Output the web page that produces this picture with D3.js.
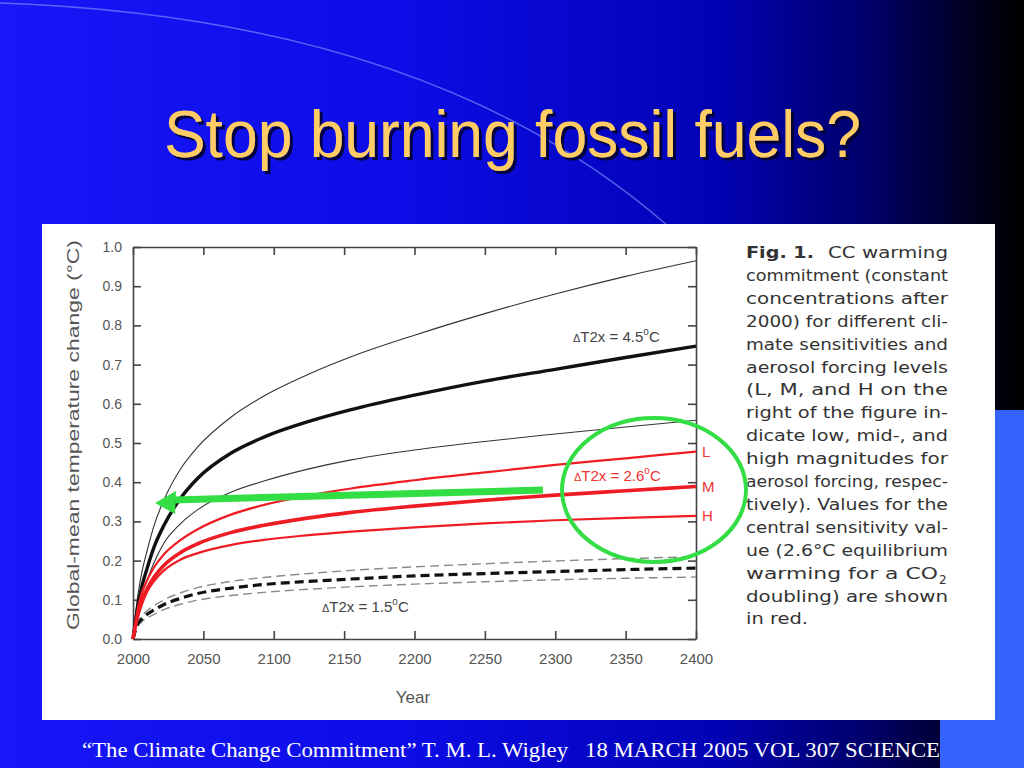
<!DOCTYPE html>
<html>
<head>
<meta charset="utf-8">
<script src="https://cdn.jsdelivr.net/npm/d3@7"></script>
<style>
  html, body { margin: 0; padding: 0; background: #000; }
  svg { display: block; }
</style>
</head>
<body>
<div id="svgOutput"></div>
<script>
// data

const years = [2000, 2003, 2006, 2010, 2015, 2022, 2034, 2046, 2070, 2093, 2125, 2155, 2200, 2250, 2300, 2350, 2400];

// dT2x = 4.5 (black, solid)
const hiL = [0, 0.10, 0.165, 0.225, 0.29, 0.355, 0.435, 0.49, 0.567, 0.62, 0.676, 0.72, 0.775, 0.83, 0.88, 0.925, 0.965];
const hiM = [0, 0.075, 0.13, 0.18, 0.235, 0.29, 0.36, 0.41, 0.475, 0.515, 0.555, 0.585, 0.622, 0.658, 0.688, 0.718, 0.747];
const hiH = [0, 0.065, 0.11, 0.15, 0.195, 0.245, 0.295, 0.33, 0.375, 0.403, 0.434, 0.457, 0.482, 0.504, 0.523, 0.541, 0.558];

// dT2x = 2.6 (red)
const midL = [0, 0.07, 0.115, 0.15, 0.183, 0.216, 0.253, 0.28, 0.318, 0.342, 0.366, 0.384, 0.405, 0.425, 0.444, 0.461, 0.478];
const midM = [0, 0.055, 0.095, 0.128, 0.158, 0.188, 0.221, 0.243, 0.272, 0.29, 0.309, 0.323, 0.339, 0.354, 0.367, 0.378, 0.389];
const midH = [0, 0.05, 0.085, 0.12, 0.148, 0.175, 0.203, 0.219, 0.24, 0.253, 0.265, 0.274, 0.285, 0.295, 0.303, 0.309, 0.314];

// dT2x = 1.5 (dashed)
const loL = [0, 0.04, 0.058, 0.072, 0.085, 0.10, 0.118, 0.131, 0.147, 0.157, 0.167, 0.175, 0.184, 0.192, 0.199, 0.205, 0.21];
const loM = [0, 0.035, 0.05, 0.063, 0.074, 0.088, 0.104, 0.116, 0.13, 0.139, 0.147, 0.153, 0.161, 0.167, 0.172, 0.177, 0.181];
const loH = [0, 0.03, 0.043, 0.054, 0.063, 0.075, 0.089, 0.099, 0.111, 0.119, 0.127, 0.133, 0.14, 0.146, 0.151, 0.155, 0.158];

const xTicks = [2000, 2050, 2100, 2150, 2200, 2250, 2300, 2350, 2400];
const yTicks = [0, 0.1, 0.2, 0.3, 0.4, 0.5, 0.6, 0.7, 0.8, 0.9, 1.0];
const levelLabels = ["L", "M", "H"];

const captionLines = [
  "CC warming",
  "commitment (constant",
  "concentrations after",
  "2000) for different cli-",
  "mate sensitivities and",
  "aerosol forcing levels",
  "(L, M, and H on the",
  "right of the figure in-",
  "dicate low, mid-, and",
  "high magnitudes for",
  "aerosol forcing, respec-",
  "tively). Values for the",
  "central sensitivity val-",
  "ue (2.6°C equilibrium",
  "warming for a CO",
  "doubling) are shown",
  "in red."
];

// config

const width = 1024;
const height = 768;

const svg = d3.select("#svgOutput")
  .append("svg")
  .attr("width", width)
  .attr("height", height);

const defs = svg.append("defs");

const bg = defs.append("linearGradient")
  .attr("id", "bgGrad")
  .attr("x1", 0).attr("x2", 1).attr("y1", 0).attr("y2", 0);
bg.append("stop").attr("offset", "0%").attr("stop-color", "#1717f8");
bg.append("stop").attr("offset", "40%").attr("stop-color", "#0c0ce6");
bg.append("stop").attr("offset", "70%").attr("stop-color", "#0202b4");
bg.append("stop").attr("offset", "85%").attr("stop-color", "#000068");
bg.append("stop").attr("offset", "97%").attr("stop-color", "#000010");
bg.append("stop").attr("offset", "100%").attr("stop-color", "#000000");

const shadow = defs.append("filter").attr("id", "shadow");
shadow.append("feDropShadow")
  .attr("dx", 3).attr("dy", 3).attr("stdDeviation", 0.6)
  .attr("flood-color", "#000030").attr("flood-opacity", 0.9);

// slide background

svg.append("rect")
  .attr("width", width)
  .attr("height", height)
  .attr("fill", "url(#bgGrad)");

svg.append("path")
  .attr("d", "M0,3 Q430,18 668,226")
  .attr("fill", "none")
  .attr("stroke", "#8fa8ff")
  .attr("stroke-opacity", 0.55)
  .attr("stroke-width", 1.5);

svg.append("path")
  .attr("d", "M995,410 H1024 V768 H940 V720 H995 Z")
  .attr("fill", "#3562fb");

// title

svg.append("text")
  .attr("x", 164)
  .attr("y", 157)
  .attr("font-family", "'Liberation Sans', Arial, sans-serif")
  .attr("font-size", 66)
  .attr("fill", "#ffcc66")
  .attr("filter", "url(#shadow)")
  .attr("textLength", 697)
  .attr("lengthAdjust", "spacingAndGlyphs")
  .text("Stop burning fossil fuels?");

// white figure panel

svg.append("rect")
  .attr("x", 42)
  .attr("y", 224)
  .attr("width", 953)
  .attr("height", 496)
  .attr("fill", "#ffffff");

// scales

const x = d3.scaleLinear().domain([2000, 2400]).range([133, 696]);
const y = d3.scaleLinear().domain([0, 1]).range([639, 247]);

const axisFont = "'Liberation Sans', Arial, sans-serif";

// axes (ticks pointing inward)

const gBottom = svg.append("g")
  .attr("transform", `translate(0,${y(0)})`)
  .call(d3.axisBottom(x).tickValues(xTicks).tickSizeInner(-8).tickSizeOuter(0).tickPadding(14).tickFormat(d3.format("d")));

const gTop = svg.append("g")
  .attr("transform", `translate(0,${y(1)})`)
  .call(d3.axisTop(x).tickValues(xTicks).tickSizeInner(-8).tickSizeOuter(0).tickFormat(""));

const gLeft = svg.append("g")
  .attr("transform", `translate(${x(2000)},0)`)
  .call(d3.axisLeft(y).tickValues(yTicks).tickSizeInner(-8).tickSizeOuter(0).tickPadding(11).tickFormat(d3.format(".1f")));

const gRight = svg.append("g")
  .attr("transform", `translate(${x(2400)},0)`)
  .call(d3.axisRight(y).tickValues(yTicks).tickSizeInner(-8).tickSizeOuter(0).tickFormat(""));

[gBottom, gTop, gLeft, gRight].forEach(function (g) {
  g.select(".domain").attr("stroke", "#444").attr("stroke-width", 1.6);
  g.selectAll(".tick line").attr("stroke", "#444").attr("stroke-width", 1.6);
  g.selectAll(".tick text")
    .attr("fill", "#555")
    .attr("font-family", axisFont);
});
gBottom.selectAll(".tick text").attr("font-size", 15);
gLeft.selectAll(".tick text").attr("font-size", 14);

// axis titles

svg.append("text")
  .attr("x", 413)
  .attr("y", 703)
  .attr("text-anchor", "middle")
  .attr("font-family", axisFont)
  .attr("font-size", 17)
  .attr("fill", "#555")
  .text("Year");

svg.append("text")
  .attr("transform", "translate(79,435) rotate(-90)")
  .attr("text-anchor", "middle")
  .attr("font-family", axisFont)
  .attr("font-size", 16)
  .attr("fill", "#555")
  .attr("textLength", 390)
  .attr("lengthAdjust", "spacingAndGlyphs")
  .text("Global-mean temperature change  (°C)");

// curves

const line = d3.line()
  .x((d) => x(d.year))
  .y((d) => y(d.value))
  .curve(d3.curveMonotoneX);

function toPoints(values) {
  return years.map((yr, i) => ({ year: yr, value: values[i] }));
}

const series = [
  { values: loL, stroke: "#8a8a8a", width: 1.4, dash: "9,5" },
  { values: loH, stroke: "#8a8a8a", width: 1.4, dash: "9,5" },
  { values: loM, stroke: "#111", width: 3.2, dash: "9,5" },
  { values: hiL, stroke: "#333", width: 1.1, dash: null },
  { values: hiH, stroke: "#333", width: 1.1, dash: null },
  { values: hiM, stroke: "#111", width: 3.4, dash: null },
  { values: midL, stroke: "#ee1c24", width: 2.2, dash: null },
  { values: midH, stroke: "#ee1c24", width: 2.2, dash: null },
  { values: midM, stroke: "#ee1c24", width: 3.6, dash: null }
];

svg.selectAll("path.curve")
  .data(series)
  .enter()
  .append("path")
  .attr("class", "curve")
  .attr("d", (d) => line(toPoints(d.values)))
  .attr("fill", "none")
  .attr("stroke", (d) => d.stroke)
  .attr("stroke-width", (d) => d.width)
  .attr("stroke-dasharray", (d) => d.dash);

// L, M, H labels at the right end of the red curves

svg.selectAll("text.level")
  .data([midL, midM, midH])
  .enter()
  .append("text")
  .attr("class", "level")
  .attr("x", x(2400) + 6)
  .attr("y", (d) => y(d[d.length - 1]) + 5)
  .attr("font-family", axisFont)
  .attr("font-size", 15)
  .attr("fill", "#ee3333")
  .text((d, i) => levelLabels[i]);

// sensitivity annotations

function annotate(xPos, yPos, value, color) {
  const t = svg.append("text")
    .attr("x", xPos)
    .attr("y", yPos)
    .attr("font-family", axisFont)
    .attr("font-size", 15)
    .attr("fill", color);
  t.append("tspan").attr("font-size", 11).text("Δ");
  t.append("tspan").text("T2x = " + value);
  t.append("tspan").attr("font-size", 10).attr("dy", -7).text("o");
  t.append("tspan").attr("dy", 7).text("C");
}

annotate(573, 342, "4.5", "#444");
annotate(574, 481, "2.6", "#ee3333");
annotate(322, 612, "1.5", "#444");

// caption

const capX0 = 746;
const capX1 = 948;
const capTop = 258;
const capStep = 22.9;
const capFont = "'DejaVu Sans', Verdana, sans-serif";

const cap = svg.append("g")
  .attr("font-family", capFont)
  .attr("font-size", 16.5)
  .attr("fill", "#333");

captionLines.forEach(function (txt, i) {
  const yy = capTop + i * capStep;
  if (i === 0) {
    cap.append("text")
      .attr("x", capX0)
      .attr("y", yy)
      .attr("font-weight", "bold")
      .attr("textLength", 68)
      .attr("lengthAdjust", "spacingAndGlyphs")
      .text("Fig. 1.");
    cap.append("text")
      .attr("x", capX0 + 82)
      .attr("y", yy)
      .attr("textLength", capX1 - capX0 - 82)
      .attr("lengthAdjust", "spacingAndGlyphs")
      .text(txt);
  } else if (txt === "warming for a CO") {
    cap.append("text")
      .attr("x", capX0)
      .attr("y", yy)
      .attr("textLength", capX1 - capX0 - 10)
      .attr("lengthAdjust", "spacingAndGlyphs")
      .text(txt);
    cap.append("text")
      .attr("x", capX1 - 9)
      .attr("y", yy + 5)
      .attr("font-size", 12)
      .text("2");
  } else if (i === captionLines.length - 1) {
    cap.append("text")
      .attr("x", capX0)
      .attr("y", yy)
      .attr("textLength", 62)
      .attr("lengthAdjust", "spacingAndGlyphs")
      .text(txt);
  } else {
    cap.append("text")
      .attr("x", capX0)
      .attr("y", yy)
      .attr("textLength", capX1 - capX0)
      .attr("lengthAdjust", "spacingAndGlyphs")
      .text(txt);
  }
});

// green highlight: arrow and ellipse

const green = "#33dd44";

svg.append("line")
  .attr("x1", 543).attr("y1", 490)
  .attr("x2", 172).attr("y2", 500)
  .attr("stroke", green)
  .attr("stroke-width", 7);

svg.append("path")
  .attr("d", "M155,503 L176,491 L175,514 Z")
  .attr("fill", green);

svg.append("ellipse")
  .attr("cx", 654)
  .attr("cy", 490)
  .attr("rx", 92)
  .attr("ry", 72)
  .attr("fill", "none")
  .attr("stroke", green)
  .attr("stroke-width", 4);

// footer reference

svg.append("text")
  .attr("x", 82)
  .attr("y", 757)
  .attr("font-family", "'Liberation Serif', 'Times New Roman', serif")
  .attr("font-size", 20)
  .attr("fill", "#ffffff")
  .attr("textLength", 858)
  .attr("lengthAdjust", "spacingAndGlyphs")
  .attr("xml:space", "preserve")
  .text("\u201CThe Climate Change Commitment\u201D T. M. L. Wigley   18 MARCH 2005 VOL 307 SCIENCE");
</script>
</body>
</html>
